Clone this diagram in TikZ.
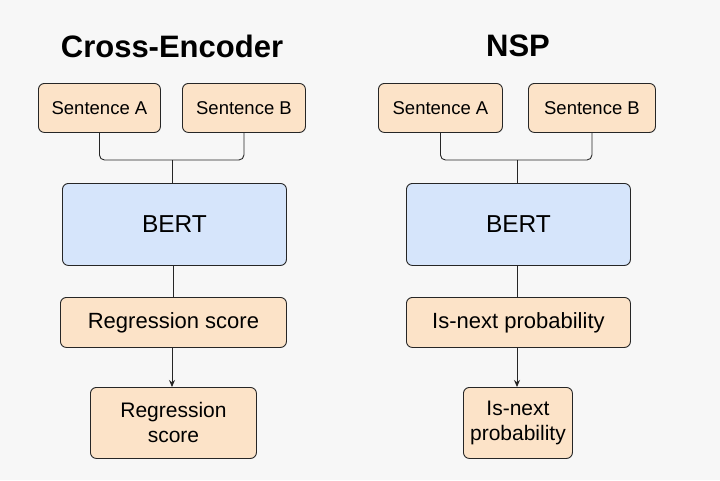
\documentclass[tikz,border=0pt]{standalone}
\usepackage{fontspec}
\setmainfont{Liberation Sans}
\usetikzlibrary{arrows.meta}
\definecolor{peach}{HTML}{FCE3C8}
\definecolor{bertc}{HTML}{D6E5FB}
\definecolor{bg}{HTML}{F7F7F7}
\tikzset{
 box/.style={draw=black!85, line width=0.9pt, rounded corners=6pt, anchor=north west, align=center, inner sep=0pt},
 sbox/.style={box, fill=peach, font=\fontsize{18.5}{22}\selectfont},
 mbox/.style={box, fill=peach, font=\fontsize{22}{25}\selectfont},
 obox/.style={box, fill=peach, font=\fontsize{21}{25}\selectfont},
 bbox/.style={box, fill=bertc, font=\fontsize{24.5}{28}\selectfont},
 ttl/.style={font=\fontsize{31}{34}\selectfont\bfseries},
 ln/.style={line width=0.9pt, black!85},
 arr/.style={ln, -{Stealth[length=7pt,width=6pt]}}
}
\begin{document}
\begin{tikzpicture}[x=1pt,y=-1pt]
\fill[bg] (0,0) rectangle (720,480);
\useasboundingbox (0,0) rectangle (720,480);
\node[ttl] (t1) at (172,46) {Cross-Encoder};
\node[ttl] (t2) at (518,46) {NSP};
% left
\node[sbox, minimum width=122pt, minimum height=49pt] (la) at (38,83) {Sentence A};
\node[sbox, minimum width=123pt, minimum height=49pt] (lb) at (182,83) {Sentence B};
\node[bbox, minimum width=224pt, minimum height=82pt] (lbert) at (62,183) {BERT};
\node[mbox, minimum width=226pt, minimum height=50pt] (lr) at (60,297) {Regression score};
\node[obox, minimum width=166pt, minimum height=71pt] (lo) at (90,387) {Regression\\score};
\coordinate (lm) at (172,160);
\draw[ln, rounded corners=5pt] (la.south) |- (lm) -| (lb.south);
\draw[ln] (lm) -- (lm |- lbert.north);
\draw[ln] (lbert.south -| lr.north) -- (lr.north);
\draw[arr] (lr.south -| 172,0) -- (lo.north -| 172,0);
% right
\node[sbox, minimum width=124pt, minimum height=49pt] (ra) at (378,83) {Sentence A};
\node[sbox, minimum width=127pt, minimum height=49pt] (rb) at (528,83) {Sentence B};
\node[bbox, minimum width=224pt, minimum height=82pt] (rbert) at (406,183) {BERT};
\node[mbox, minimum width=224pt, minimum height=50pt] (rr) at (406,297) {Is-next probability};
\node[obox, minimum width=109pt, minimum height=71pt] (ro) at (463,387) {Is-next\\probability};
\coordinate (rm) at (517,160);
\draw[ln, rounded corners=5pt] (ra.south) |- (rm) -| (rb.south);
\draw[ln] (rm) -- (rm |- rbert.north);
\draw[ln] (rbert.south -| 517,0) -- (rr.north -| 517,0);
\draw[arr] (rr.south -| 517,0) -- (ro.north -| 517,0);
\end{tikzpicture}
\end{document}
